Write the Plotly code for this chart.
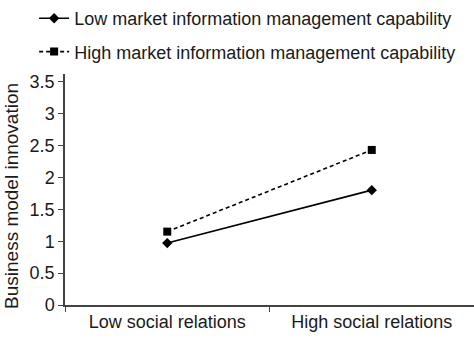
import plotly.graph_objects as go

categories = ["Low social relations", "High social relations"]
low_mimc = [0.97, 1.80]
high_mimc = [1.15, 2.43]
series_names = ["Low market information management capability",
                "High market information management capability"]
y_ticks = [0, 0.5, 1, 1.5, 2, 2.5, 3, 3.5]
y_tick_text = ["0", "0.5", "1", "1.5", "2", "2.5", "3", "3.5"]
y_title = "Business model innovation"

FONT = "Liberation Sans, Arial, sans-serif"

fig = go.Figure()
fig.add_trace(go.Scatter(
    x=categories, y=low_mimc, name=series_names[0], mode="lines+markers",
    line=dict(color="black", width=1.6, dash="solid"),
    marker=dict(symbol="diamond", size=8, color="black"),
    legendgroup="a",
))
fig.add_trace(go.Scatter(
    x=categories, y=high_mimc, name=series_names[1], mode="lines+markers",
    line=dict(color="black", width=1.6, dash="4px,3px"),
    marker=dict(symbol="square", size=8, color="black"),
    legendgroup="b",
))

fig.update_layout(
    width=474, height=361,
    margin=dict(l=65, r=0, t=74, b=56, autoexpand=False),
    paper_bgcolor="white", plot_bgcolor="white",
    font=dict(family=FONT, size=18, color="#1a1a1a"),
    showlegend=True,
    legend=dict(
        xref="container", yref="container",
        x=0.072, y=1.0, xanchor="left", yanchor="top",
        orientation="v", tracegroupgap=7,
        font=dict(size=18, family=FONT, color="#1a1a1a"),
        bgcolor="rgba(0,0,0,0)",
    ),
    annotations=[dict(
        text=y_title, textangle=-90, showarrow=False,
        xref="paper", yref="paper", x=(12 - 65) / 409, y=0.472,
        xanchor="center", yanchor="middle",
        font=dict(size=19, family=FONT, color="#1a1a1a"),
    )],
)
fig.update_xaxes(
    showgrid=False, showline=True, linecolor="#444", linewidth=1.5,
    ticks="outside", tickson="boundaries", ticklen=5, tickcolor="#444",
    range=[-0.5, 1.5], automargin=False,
    tickfont=dict(size=18),
)
fig.update_yaxes(
    range=[0, 3.62], tickvals=y_ticks, ticktext=y_tick_text,
    showgrid=False, showline=True, linecolor="#444", linewidth=1.5,
    ticks="outside", ticklen=5, tickcolor="#444", zeroline=False,
    tickfont=dict(size=18), automargin=False,
)

fig.write_html("out.html", config={"displayModeBar": False},
               post_script="document.body.style.margin='0';")
